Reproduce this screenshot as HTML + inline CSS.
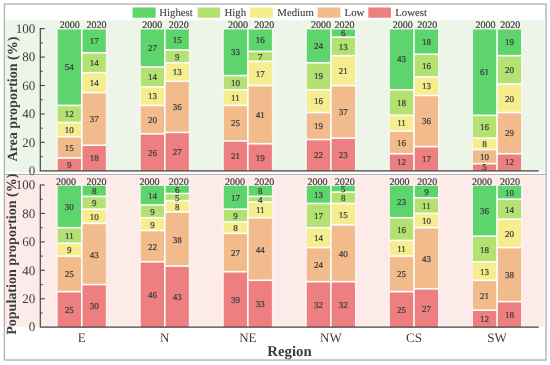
<!DOCTYPE html><html><head><meta charset="utf-8"><title>chart</title><style>
html,body{margin:0;padding:0;background:#fff}svg{display:block}
text{font-family:"Liberation Serif","Times New Roman",serif;text-rendering:geometricPrecision;fill:#3c3c3c;stroke:#3c3c3c;stroke-width:0}
.yr{font-size:10px;text-anchor:middle;stroke-width:0.2px}.v{font-size:9px;text-anchor:middle;stroke-width:0.22px}.tk{font-size:13px;text-anchor:end}.xl{font-size:13px;text-anchor:middle}.ti{font-size:14.8px;font-weight:bold;text-anchor:middle}.yt{font-size:14.05px;font-weight:bold;text-anchor:start}.lg{font-size:10.8px;stroke-width:0.1px}
</style></head><body>
<svg width="550" height="365" viewBox="0 0 550 365">
<rect x="0" y="0" width="550" height="365" fill="#fff"/>
<rect x="4.5" y="20.3" width="539.9" height="151.8" fill="#edf5e9"/>
<rect x="4.5" y="175.1" width="539.9" height="151.7" fill="#fdebea"/>
<rect x="4.4" y="4.05" width="541.6" height="356.0" fill="none" stroke="#b4b4b4" stroke-width="1.4"/>
<line x1="4" y1="174.5" x2="546" y2="174.5" stroke="#b4b4b4" stroke-width="1.2"/>
<rect x="132.6" y="7.5" width="23.0" height="10.2" fill="#5dd46c"/>
<text class="lg" x="159.2" y="16.2">Highest</text>
<rect x="197.7" y="7.5" width="22.5" height="10.2" fill="#b4e272"/>
<text class="lg" x="224.5" y="16.2">High</text>
<rect x="249.9" y="7.5" width="22.9" height="10.2" fill="#f6ed8e"/>
<text class="lg" x="277.3" y="16.2">Medium</text>
<rect x="317.7" y="7.5" width="22.6" height="10.2" fill="#f2bb8c"/>
<text class="lg" x="344.6" y="16.2">Low</text>
<rect x="368.3" y="7.5" width="22.7" height="10.2" fill="#ee7f81"/>
<text class="lg" x="395.2" y="16.2">Lowest</text>
<rect x="56.00" y="27.75" width="51.50" height="143.05" fill="#fff" fill-opacity="0.3"/>
<rect x="57.80" y="29.55" width="47.90" height="141.25" fill="#fff"/>
<rect x="57.70" y="158.81" width="23.25" height="11.99" fill="#ee7f81"/>
<text class="v" x="69.33" y="167.60">9</text>
<rect x="57.70" y="137.48" width="23.25" height="19.72" fill="#f2bb8c"/>
<text class="v" x="69.33" y="150.55">15</text>
<rect x="57.70" y="123.27" width="23.25" height="12.62" fill="#f6ed8e"/>
<text class="v" x="69.33" y="132.78">10</text>
<rect x="57.70" y="106.21" width="23.25" height="15.46" fill="#b4e272"/>
<text class="v" x="69.33" y="117.14">12</text>
<rect x="57.70" y="29.45" width="23.25" height="75.16" fill="#5dd46c"/>
<text class="v" x="69.33" y="70.23">54</text>
<text class="yr" x="69.65" y="28.10">2000</text>
<rect x="82.55" y="146.01" width="23.25" height="24.79" fill="#ee7f81"/>
<text class="v" x="94.17" y="161.21">18</text>
<rect x="82.55" y="93.42" width="23.25" height="51.00" fill="#f2bb8c"/>
<text class="v" x="94.17" y="122.12">37</text>
<rect x="82.55" y="73.52" width="23.25" height="18.30" fill="#f6ed8e"/>
<text class="v" x="94.17" y="85.87">14</text>
<rect x="82.55" y="53.62" width="23.25" height="18.30" fill="#b4e272"/>
<text class="v" x="94.17" y="65.97">14</text>
<rect x="82.55" y="29.45" width="23.25" height="22.57" fill="#5dd46c"/>
<text class="v" x="94.17" y="43.93">17</text>
<text class="yr" x="96.40" y="28.10">2020</text>
<rect x="139.05" y="27.75" width="51.50" height="143.05" fill="#fff" fill-opacity="0.3"/>
<rect x="140.85" y="29.55" width="47.90" height="141.25" fill="#fff"/>
<rect x="140.75" y="134.64" width="23.25" height="36.16" fill="#ee7f81"/>
<text class="v" x="152.38" y="155.52">26</text>
<rect x="140.75" y="106.21" width="23.25" height="26.83" fill="#f2bb8c"/>
<text class="v" x="152.38" y="122.83">20</text>
<rect x="140.75" y="87.73" width="23.25" height="16.88" fill="#f6ed8e"/>
<text class="v" x="152.38" y="99.37">13</text>
<rect x="140.75" y="67.83" width="23.25" height="18.30" fill="#b4e272"/>
<text class="v" x="152.38" y="80.18">14</text>
<rect x="140.75" y="29.45" width="23.25" height="36.78" fill="#5dd46c"/>
<text class="v" x="152.38" y="51.04">27</text>
<text class="yr" x="152.30" y="28.10">2000</text>
<rect x="165.60" y="133.22" width="23.25" height="37.58" fill="#ee7f81"/>
<text class="v" x="177.23" y="154.81">27</text>
<rect x="165.60" y="82.05" width="23.25" height="49.57" fill="#f2bb8c"/>
<text class="v" x="177.23" y="110.03">36</text>
<rect x="165.60" y="63.57" width="23.25" height="16.88" fill="#f6ed8e"/>
<text class="v" x="177.23" y="75.21">13</text>
<rect x="165.60" y="50.77" width="23.25" height="11.19" fill="#b4e272"/>
<text class="v" x="177.23" y="59.57">9</text>
<rect x="165.60" y="29.45" width="23.25" height="19.72" fill="#5dd46c"/>
<text class="v" x="177.23" y="42.51">15</text>
<text class="yr" x="178.85" y="28.10">2020</text>
<rect x="222.10" y="27.75" width="51.50" height="143.05" fill="#fff" fill-opacity="0.3"/>
<rect x="223.90" y="29.55" width="47.90" height="141.25" fill="#fff"/>
<rect x="223.80" y="141.75" width="23.25" height="29.05" fill="#ee7f81"/>
<text class="v" x="235.43" y="159.07">21</text>
<rect x="223.80" y="106.21" width="23.25" height="33.94" fill="#f2bb8c"/>
<text class="v" x="235.43" y="126.38">25</text>
<rect x="223.80" y="90.57" width="23.25" height="14.04" fill="#f6ed8e"/>
<text class="v" x="235.43" y="100.79">11</text>
<rect x="223.80" y="76.36" width="23.25" height="12.62" fill="#b4e272"/>
<text class="v" x="235.43" y="85.87">10</text>
<rect x="223.80" y="29.45" width="23.25" height="45.31" fill="#5dd46c"/>
<text class="v" x="235.43" y="55.30">33</text>
<text class="yr" x="238.00" y="28.10">2000</text>
<rect x="248.65" y="144.59" width="23.25" height="26.21" fill="#ee7f81"/>
<text class="v" x="260.27" y="160.50">19</text>
<rect x="248.65" y="86.31" width="23.25" height="56.68" fill="#f2bb8c"/>
<text class="v" x="260.27" y="117.85">41</text>
<rect x="248.65" y="62.14" width="23.25" height="22.57" fill="#f6ed8e"/>
<text class="v" x="260.27" y="76.63">17</text>
<rect x="248.65" y="52.19" width="23.25" height="8.35" fill="#b4e272"/>
<text class="v" x="260.27" y="59.57">7</text>
<rect x="248.65" y="29.45" width="23.25" height="21.14" fill="#5dd46c"/>
<text class="v" x="260.27" y="43.22">16</text>
<text class="yr" x="264.20" y="28.10">2020</text>
<rect x="305.15" y="27.75" width="51.50" height="143.05" fill="#fff" fill-opacity="0.3"/>
<rect x="306.95" y="29.55" width="47.90" height="141.25" fill="#fff"/>
<rect x="306.85" y="140.33" width="23.25" height="30.47" fill="#ee7f81"/>
<text class="v" x="318.47" y="158.36">22</text>
<rect x="306.85" y="113.32" width="23.25" height="25.41" fill="#f2bb8c"/>
<text class="v" x="318.47" y="129.22">19</text>
<rect x="306.85" y="90.57" width="23.25" height="21.14" fill="#f6ed8e"/>
<text class="v" x="318.47" y="104.35">16</text>
<rect x="306.85" y="63.57" width="23.25" height="25.41" fill="#b4e272"/>
<text class="v" x="318.47" y="79.47">19</text>
<rect x="306.85" y="29.45" width="23.25" height="32.52" fill="#5dd46c"/>
<text class="v" x="318.47" y="48.91">24</text>
<text class="yr" x="320.90" y="28.10">2000</text>
<rect x="331.70" y="138.91" width="23.25" height="31.89" fill="#ee7f81"/>
<text class="v" x="343.32" y="157.65">23</text>
<rect x="331.70" y="86.31" width="23.25" height="51.00" fill="#f2bb8c"/>
<text class="v" x="343.32" y="115.01">37</text>
<rect x="331.70" y="56.46" width="23.25" height="28.25" fill="#f6ed8e"/>
<text class="v" x="343.32" y="73.78">21</text>
<rect x="331.70" y="37.98" width="23.25" height="16.88" fill="#b4e272"/>
<text class="v" x="343.32" y="49.62">13</text>
<rect x="331.70" y="29.45" width="23.25" height="6.93" fill="#5dd46c"/>
<text class="v" x="343.32" y="36.11">6</text>
<text class="yr" x="344.60" y="28.10">2020</text>
<rect x="388.20" y="27.75" width="51.50" height="143.05" fill="#fff" fill-opacity="0.3"/>
<rect x="390.00" y="29.55" width="47.90" height="141.25" fill="#fff"/>
<rect x="389.90" y="154.54" width="23.25" height="16.26" fill="#ee7f81"/>
<text class="v" x="401.52" y="165.47">12</text>
<rect x="389.90" y="131.80" width="23.25" height="21.14" fill="#f2bb8c"/>
<text class="v" x="401.52" y="145.57">16</text>
<rect x="389.90" y="116.16" width="23.25" height="14.04" fill="#f6ed8e"/>
<text class="v" x="401.52" y="126.38">11</text>
<rect x="389.90" y="90.57" width="23.25" height="23.99" fill="#b4e272"/>
<text class="v" x="401.52" y="105.77">18</text>
<rect x="389.90" y="29.45" width="23.25" height="59.52" fill="#5dd46c"/>
<text class="v" x="401.52" y="62.41">43</text>
<text class="yr" x="402.65" y="28.10">2000</text>
<rect x="414.75" y="147.43" width="23.25" height="23.37" fill="#ee7f81"/>
<text class="v" x="426.38" y="161.92">17</text>
<rect x="414.75" y="96.26" width="23.25" height="49.57" fill="#f2bb8c"/>
<text class="v" x="426.38" y="124.25">36</text>
<rect x="414.75" y="77.78" width="23.25" height="16.88" fill="#f6ed8e"/>
<text class="v" x="426.38" y="89.42">13</text>
<rect x="414.75" y="55.04" width="23.25" height="21.14" fill="#b4e272"/>
<text class="v" x="426.38" y="68.81">16</text>
<rect x="414.75" y="29.45" width="23.25" height="23.99" fill="#5dd46c"/>
<text class="v" x="426.38" y="44.64">18</text>
<text class="yr" x="427.20" y="28.10">2020</text>
<rect x="471.25" y="27.75" width="51.50" height="143.05" fill="#fff" fill-opacity="0.3"/>
<rect x="473.05" y="29.55" width="47.90" height="141.25" fill="#fff"/>
<rect x="472.95" y="164.49" width="23.25" height="6.31" fill="#ee7f81"/>
<text class="v" x="484.57" y="170.45">5</text>
<rect x="472.95" y="150.28" width="23.25" height="12.61" fill="#f2bb8c"/>
<text class="v" x="484.57" y="159.79">10</text>
<rect x="472.95" y="138.91" width="23.25" height="9.77" fill="#f6ed8e"/>
<text class="v" x="484.57" y="146.99">8</text>
<rect x="472.95" y="116.16" width="23.25" height="21.14" fill="#b4e272"/>
<text class="v" x="484.57" y="129.93">16</text>
<rect x="472.95" y="29.45" width="23.25" height="85.11" fill="#5dd46c"/>
<text class="v" x="484.57" y="75.21">61</text>
<text class="yr" x="485.40" y="28.10">2000</text>
<rect x="497.80" y="154.54" width="23.25" height="16.26" fill="#ee7f81"/>
<text class="v" x="509.43" y="165.47">12</text>
<rect x="497.80" y="113.32" width="23.25" height="39.62" fill="#f2bb8c"/>
<text class="v" x="509.43" y="136.33">29</text>
<rect x="497.80" y="84.89" width="23.25" height="26.83" fill="#f6ed8e"/>
<text class="v" x="509.43" y="101.50">20</text>
<rect x="497.80" y="56.46" width="23.25" height="26.83" fill="#b4e272"/>
<text class="v" x="509.43" y="73.07">20</text>
<rect x="497.80" y="29.45" width="23.25" height="25.41" fill="#5dd46c"/>
<text class="v" x="509.43" y="45.35">19</text>
<text class="yr" x="510.20" y="28.10">2020</text>
<path d="M40.30 28.05 V170.80 H538.80" fill="none" stroke="#454545" stroke-width="1.2"/>
<text class="tk" x="35.2" y="175.00">0</text>
<line x1="40.30" y1="156.59" x2="42.60" y2="156.59" stroke="#454545" stroke-width="1.1"/>
<line x1="40.30" y1="142.37" x2="44.80" y2="142.37" stroke="#454545" stroke-width="1.1"/>
<text class="tk" x="35.2" y="146.57">20</text>
<line x1="40.30" y1="128.16" x2="42.60" y2="128.16" stroke="#454545" stroke-width="1.1"/>
<line x1="40.30" y1="113.94" x2="44.80" y2="113.94" stroke="#454545" stroke-width="1.1"/>
<text class="tk" x="35.2" y="118.14">40</text>
<line x1="40.30" y1="99.73" x2="42.60" y2="99.73" stroke="#454545" stroke-width="1.1"/>
<line x1="40.30" y1="85.51" x2="44.80" y2="85.51" stroke="#454545" stroke-width="1.1"/>
<text class="tk" x="35.2" y="89.71">60</text>
<line x1="40.30" y1="71.30" x2="42.60" y2="71.30" stroke="#454545" stroke-width="1.1"/>
<line x1="40.30" y1="57.08" x2="44.80" y2="57.08" stroke="#454545" stroke-width="1.1"/>
<text class="tk" x="35.2" y="61.28">80</text>
<line x1="40.30" y1="42.87" x2="42.60" y2="42.87" stroke="#454545" stroke-width="1.1"/>
<line x1="40.30" y1="28.65" x2="44.80" y2="28.65" stroke="#454545" stroke-width="1.1"/>
<text class="tk" x="35.2" y="32.85">100</text>
<text class="yt" transform="translate(17.00 161.60) rotate(-90)">Area proportion (%)</text>
<rect x="56.00" y="184.10" width="51.50" height="143.10" fill="#fff" fill-opacity="0.3"/>
<rect x="57.80" y="185.90" width="47.90" height="141.30" fill="#fff"/>
<rect x="57.70" y="292.45" width="23.25" height="34.75" fill="#ee7f81"/>
<text class="v" x="69.33" y="313.02">25</text>
<rect x="57.70" y="256.90" width="23.25" height="33.95" fill="#f2bb8c"/>
<text class="v" x="69.33" y="277.48">25</text>
<rect x="57.70" y="244.10" width="23.25" height="11.20" fill="#f6ed8e"/>
<text class="v" x="69.33" y="253.30">9</text>
<rect x="57.70" y="228.46" width="23.25" height="14.04" fill="#b4e272"/>
<text class="v" x="69.33" y="239.08">11</text>
<rect x="57.70" y="185.80" width="23.25" height="41.06" fill="#5dd46c"/>
<text class="v" x="69.33" y="209.93">30</text>
<text class="yr" x="66.10" y="184.60">2000</text>
<rect x="82.55" y="285.34" width="23.25" height="41.86" fill="#ee7f81"/>
<text class="v" x="94.17" y="309.47">30</text>
<rect x="82.55" y="224.19" width="23.25" height="59.55" fill="#f2bb8c"/>
<text class="v" x="94.17" y="257.57">43</text>
<rect x="82.55" y="209.97" width="23.25" height="12.62" fill="#f6ed8e"/>
<text class="v" x="94.17" y="219.88">10</text>
<rect x="82.55" y="197.18" width="23.25" height="11.20" fill="#b4e272"/>
<text class="v" x="94.17" y="206.37">9</text>
<rect x="82.55" y="185.80" width="23.25" height="9.78" fill="#5dd46c"/>
<text class="v" x="94.17" y="194.29">8</text>
<text class="yr" x="96.45" y="184.60">2020</text>
<rect x="139.05" y="184.10" width="51.50" height="143.10" fill="#fff" fill-opacity="0.3"/>
<rect x="140.85" y="185.90" width="47.90" height="141.30" fill="#fff"/>
<rect x="140.75" y="262.59" width="23.25" height="64.61" fill="#ee7f81"/>
<text class="v" x="152.38" y="298.09">46</text>
<rect x="140.75" y="231.30" width="23.25" height="29.68" fill="#f2bb8c"/>
<text class="v" x="152.38" y="249.75">22</text>
<rect x="140.75" y="218.51" width="23.25" height="11.20" fill="#f6ed8e"/>
<text class="v" x="152.38" y="227.70">9</text>
<rect x="140.75" y="205.71" width="23.25" height="11.20" fill="#b4e272"/>
<text class="v" x="152.38" y="214.91">9</text>
<rect x="140.75" y="185.80" width="23.25" height="18.31" fill="#5dd46c"/>
<text class="v" x="152.38" y="198.55">14</text>
<text class="yr" x="149.55" y="184.60">2000</text>
<rect x="165.60" y="266.85" width="23.25" height="60.35" fill="#ee7f81"/>
<text class="v" x="177.23" y="300.23">43</text>
<rect x="165.60" y="212.82" width="23.25" height="52.44" fill="#f2bb8c"/>
<text class="v" x="177.23" y="242.64">38</text>
<rect x="165.60" y="201.44" width="23.25" height="9.78" fill="#f6ed8e"/>
<text class="v" x="177.23" y="209.93">8</text>
<rect x="165.60" y="194.33" width="23.25" height="5.51" fill="#b4e272"/>
<text class="v" x="177.23" y="200.69">5</text>
<rect x="165.60" y="185.80" width="23.25" height="6.93" fill="#5dd46c"/>
<text class="v" x="177.23" y="192.87">6</text>
<text class="yr" x="178.85" y="184.60">2020</text>
<rect x="222.10" y="184.10" width="51.50" height="143.10" fill="#fff" fill-opacity="0.3"/>
<rect x="223.90" y="185.90" width="47.90" height="141.30" fill="#fff"/>
<rect x="223.80" y="272.54" width="23.25" height="54.66" fill="#ee7f81"/>
<text class="v" x="235.43" y="303.07">39</text>
<rect x="223.80" y="234.15" width="23.25" height="36.79" fill="#f2bb8c"/>
<text class="v" x="235.43" y="256.14">27</text>
<rect x="223.80" y="222.77" width="23.25" height="9.78" fill="#f6ed8e"/>
<text class="v" x="235.43" y="231.26">8</text>
<rect x="223.80" y="209.97" width="23.25" height="11.20" fill="#b4e272"/>
<text class="v" x="235.43" y="219.17">9</text>
<rect x="223.80" y="185.80" width="23.25" height="22.57" fill="#5dd46c"/>
<text class="v" x="235.43" y="200.69">17</text>
<text class="yr" x="234.90" y="184.60">2000</text>
<rect x="248.65" y="281.07" width="23.25" height="46.13" fill="#ee7f81"/>
<text class="v" x="260.27" y="307.34">33</text>
<rect x="248.65" y="218.51" width="23.25" height="60.97" fill="#f2bb8c"/>
<text class="v" x="260.27" y="252.59">44</text>
<rect x="248.65" y="202.86" width="23.25" height="14.04" fill="#f6ed8e"/>
<text class="v" x="260.27" y="213.48">11</text>
<rect x="248.65" y="197.18" width="23.25" height="4.09" fill="#b4e272"/>
<text class="v" x="260.27" y="202.82">4</text>
<rect x="248.65" y="185.80" width="23.25" height="9.78" fill="#5dd46c"/>
<text class="v" x="260.27" y="194.29">8</text>
<text class="yr" x="264.35" y="184.60">2020</text>
<rect x="305.15" y="184.10" width="51.50" height="143.10" fill="#fff" fill-opacity="0.3"/>
<rect x="306.95" y="185.90" width="47.90" height="141.30" fill="#fff"/>
<rect x="306.85" y="282.50" width="23.25" height="44.70" fill="#ee7f81"/>
<text class="v" x="318.47" y="308.05">32</text>
<rect x="306.85" y="248.37" width="23.25" height="32.53" fill="#f2bb8c"/>
<text class="v" x="318.47" y="268.23">24</text>
<rect x="306.85" y="228.46" width="23.25" height="18.31" fill="#f6ed8e"/>
<text class="v" x="318.47" y="241.21">14</text>
<rect x="306.85" y="204.29" width="23.25" height="22.57" fill="#b4e272"/>
<text class="v" x="318.47" y="219.17">17</text>
<rect x="306.85" y="185.80" width="23.25" height="16.89" fill="#5dd46c"/>
<text class="v" x="318.47" y="197.84">13</text>
<text class="yr" x="317.60" y="184.60">2000</text>
<rect x="331.70" y="282.50" width="23.25" height="44.70" fill="#ee7f81"/>
<text class="v" x="343.32" y="308.05">32</text>
<rect x="331.70" y="225.62" width="23.25" height="55.28" fill="#f2bb8c"/>
<text class="v" x="343.32" y="256.86">40</text>
<rect x="331.70" y="204.29" width="23.25" height="19.73" fill="#f6ed8e"/>
<text class="v" x="343.32" y="217.75">15</text>
<rect x="331.70" y="192.91" width="23.25" height="9.78" fill="#b4e272"/>
<text class="v" x="343.32" y="201.40">8</text>
<rect x="331.70" y="185.80" width="23.25" height="5.51" fill="#5dd46c"/>
<text class="v" x="343.32" y="192.16">5</text>
<text class="yr" x="344.65" y="184.60">2020</text>
<rect x="388.20" y="184.10" width="51.50" height="143.10" fill="#fff" fill-opacity="0.3"/>
<rect x="390.00" y="185.90" width="47.90" height="141.30" fill="#fff"/>
<rect x="389.90" y="292.45" width="23.25" height="34.75" fill="#ee7f81"/>
<text class="v" x="401.52" y="313.02">25</text>
<rect x="389.90" y="256.90" width="23.25" height="33.95" fill="#f2bb8c"/>
<text class="v" x="401.52" y="277.48">25</text>
<rect x="389.90" y="241.26" width="23.25" height="14.04" fill="#f6ed8e"/>
<text class="v" x="401.52" y="251.88">11</text>
<rect x="389.90" y="218.51" width="23.25" height="21.15" fill="#b4e272"/>
<text class="v" x="401.52" y="232.68">16</text>
<rect x="389.90" y="185.80" width="23.25" height="31.11" fill="#5dd46c"/>
<text class="v" x="401.52" y="204.95">23</text>
<text class="yr" x="399.50" y="184.60">2000</text>
<rect x="414.75" y="289.61" width="23.25" height="37.59" fill="#ee7f81"/>
<text class="v" x="426.38" y="311.60">27</text>
<rect x="414.75" y="228.46" width="23.25" height="59.55" fill="#f2bb8c"/>
<text class="v" x="426.38" y="261.83">43</text>
<rect x="414.75" y="214.24" width="23.25" height="12.62" fill="#f6ed8e"/>
<text class="v" x="426.38" y="224.15">10</text>
<rect x="414.75" y="198.60" width="23.25" height="14.04" fill="#b4e272"/>
<text class="v" x="426.38" y="209.22">11</text>
<rect x="414.75" y="185.80" width="23.25" height="11.20" fill="#5dd46c"/>
<text class="v" x="426.38" y="195.00">9</text>
<text class="yr" x="427.20" y="184.60">2020</text>
<rect x="471.25" y="184.10" width="51.50" height="143.10" fill="#fff" fill-opacity="0.3"/>
<rect x="473.05" y="185.90" width="47.90" height="141.30" fill="#fff"/>
<rect x="472.95" y="310.94" width="23.25" height="16.26" fill="#ee7f81"/>
<text class="v" x="484.57" y="322.27">12</text>
<rect x="472.95" y="281.07" width="23.25" height="28.26" fill="#f2bb8c"/>
<text class="v" x="484.57" y="298.81">21</text>
<rect x="472.95" y="262.59" width="23.25" height="16.89" fill="#f6ed8e"/>
<text class="v" x="484.57" y="274.63">13</text>
<rect x="472.95" y="236.99" width="23.25" height="24.00" fill="#b4e272"/>
<text class="v" x="484.57" y="252.59">18</text>
<rect x="472.95" y="185.80" width="23.25" height="49.59" fill="#5dd46c"/>
<text class="v" x="484.57" y="214.20">36</text>
<text class="yr" x="481.90" y="184.60">2000</text>
<rect x="497.80" y="302.40" width="23.25" height="24.80" fill="#ee7f81"/>
<text class="v" x="509.43" y="318.00">18</text>
<rect x="497.80" y="248.37" width="23.25" height="52.44" fill="#f2bb8c"/>
<text class="v" x="509.43" y="278.19">38</text>
<rect x="497.80" y="219.93" width="23.25" height="26.84" fill="#f6ed8e"/>
<text class="v" x="509.43" y="236.95">20</text>
<rect x="497.80" y="200.02" width="23.25" height="18.31" fill="#b4e272"/>
<text class="v" x="509.43" y="212.77">14</text>
<rect x="497.80" y="185.80" width="23.25" height="12.62" fill="#5dd46c"/>
<text class="v" x="509.43" y="195.71">10</text>
<text class="yr" x="510.10" y="184.60">2020</text>
<path d="M40.30 184.40 V327.20 H538.80" fill="none" stroke="#454545" stroke-width="1.2"/>
<text class="tk" x="35.2" y="331.40">0</text>
<line x1="40.30" y1="312.98" x2="42.60" y2="312.98" stroke="#454545" stroke-width="1.1"/>
<line x1="40.30" y1="298.76" x2="44.80" y2="298.76" stroke="#454545" stroke-width="1.1"/>
<text class="tk" x="35.2" y="302.96">20</text>
<line x1="40.30" y1="284.54" x2="42.60" y2="284.54" stroke="#454545" stroke-width="1.1"/>
<line x1="40.30" y1="270.32" x2="44.80" y2="270.32" stroke="#454545" stroke-width="1.1"/>
<text class="tk" x="35.2" y="274.52">40</text>
<line x1="40.30" y1="256.10" x2="42.60" y2="256.10" stroke="#454545" stroke-width="1.1"/>
<line x1="40.30" y1="241.88" x2="44.80" y2="241.88" stroke="#454545" stroke-width="1.1"/>
<text class="tk" x="35.2" y="246.08">60</text>
<line x1="40.30" y1="227.66" x2="42.60" y2="227.66" stroke="#454545" stroke-width="1.1"/>
<line x1="40.30" y1="213.44" x2="44.80" y2="213.44" stroke="#454545" stroke-width="1.1"/>
<text class="tk" x="35.2" y="217.64">80</text>
<line x1="40.30" y1="199.22" x2="42.60" y2="199.22" stroke="#454545" stroke-width="1.1"/>
<line x1="40.30" y1="185.00" x2="44.80" y2="185.00" stroke="#454545" stroke-width="1.1"/>
<text class="tk" x="35.2" y="189.20">100</text>
<text class="yt" transform="translate(15.90 334.80) rotate(-90)">Population proportion (%)</text>
<text class="xl" x="81.75" y="342.1">E</text>
<text class="xl" x="164.80" y="342.1">N</text>
<text class="xl" x="247.85" y="342.1">NE</text>
<text class="xl" x="330.90" y="342.1">NW</text>
<text class="xl" x="413.95" y="342.1">CS</text>
<text class="xl" x="497.00" y="342.1">SW</text>
<text class="ti" x="289.5" y="355.8">Region</text>
</svg></body></html>
